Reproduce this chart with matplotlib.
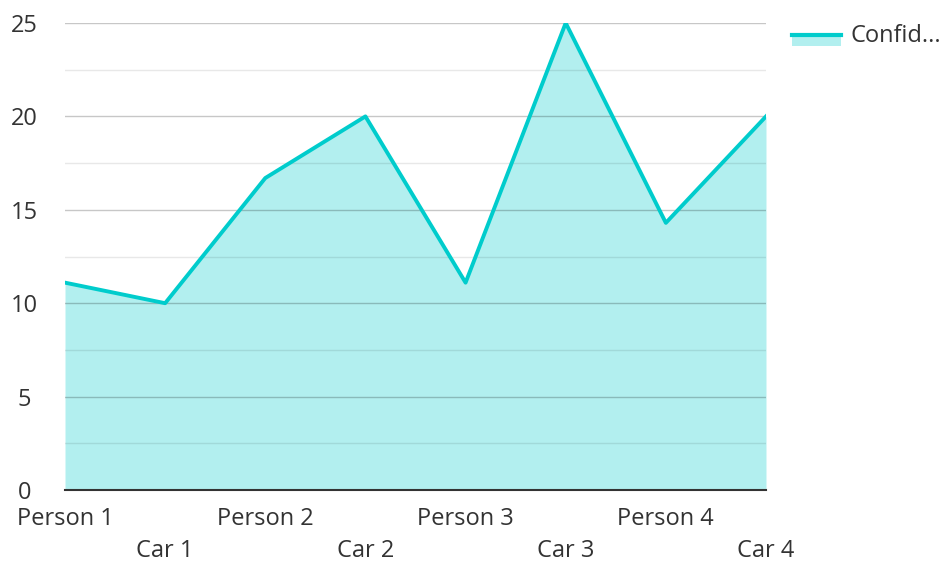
import matplotlib.pyplot as plt
import numpy as np

categories = ["Person 1", "Car 1", "Person 2", "Car 2", "Person 3", "Car 3", "Person 4", "Car 4"]
values = [11.1, 10.0, 16.7, 20.0, 11.1, 25.0, 14.3, 20.0]
series_name = "Confid..."

plt.rcParams['font.family'] = ['Open Sans', 'DejaVu Sans']
line_color = "#00cccc"

fig = plt.figure(figsize=(9.48, 5.62), dpi=100)
ax = fig.add_axes([65 / 948, 72 / 562, 701 / 948, 467 / 562])

x = np.arange(len(categories))
ax.fill_between(x, 0, values, color=line_color, alpha=0.3, linewidth=0, zorder=1)
ax.plot(x, values, color=line_color, linewidth=2.8, zorder=3)

ax.set_xlim(0, len(categories) - 1)
ax.set_ylim(0, 25)
ax.set_yticks([0, 5, 10, 15, 20, 25])
ax.set_yticks([2.5, 7.5, 12.5, 17.5, 22.5], minor=True)
ax.grid(axis="y", which="major", color="black", alpha=0.22, linewidth=1, zorder=2)
ax.grid(axis="y", which="minor", color="black", alpha=0.09, linewidth=1, zorder=2)
ax.set_axisbelow(False)

# x labels staggered on two rows
ax.set_xticks(x)
ax.set_xticklabels([])
for i, c in enumerate(categories):
    off = -29 if i % 2 == 0 else -61
    ax.annotate(c, xy=(x[i], 0), xycoords=("data", "axes fraction"),
                xytext=(0, off), textcoords="offset pixels",
                ha="center", va="center", fontsize=17, color="#333333",
                annotation_clip=False)

ax.tick_params(axis="both", which="both", length=0, labelsize=17, labelcolor="#333333")
ax.tick_params(axis="y", pad=29)
for lbl in ax.get_yticklabels():
    lbl.set_horizontalalignment("center")

for s in ["top", "right", "left"]:
    ax.spines[s].set_visible(False)
ax.spines["bottom"].set_color("#333333")
ax.spines["bottom"].set_linewidth(1.5)
ax.spines["bottom"].set_zorder(4)

# legend drawn by hand
fig.patches.append(plt.Rectangle((792 / 948, 1 - 46 / 562), 49 / 948, 12 / 562,
                                 transform=fig.transFigure, color=line_color, alpha=0.3, lw=0))
fig.lines.append(plt.Line2D([792 / 948, 841 / 948], [1 - 35 / 562] * 2,
                            transform=fig.transFigure, color=line_color, lw=3))
fig.text(851 / 948, 1 - 36 / 562, series_name, fontsize=17, color="#333333", va="center")

fig.savefig("out.png", dpi=100)
